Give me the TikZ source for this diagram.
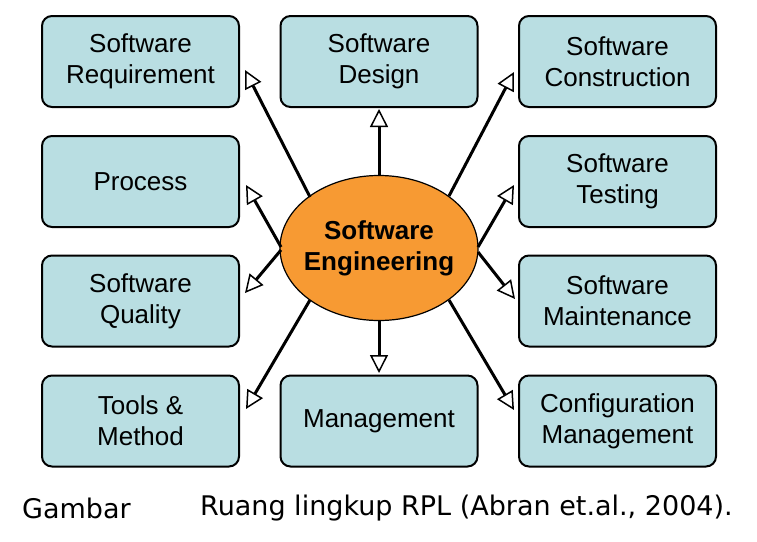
\documentclass[tikz,border=0pt]{standalone}
\usepackage{fontspec}
\setmainfont{Liberation Sans}
\newfontfamily\capfont{DejaVu Sans}
\usetikzlibrary{shapes.geometric,arrows.meta}
\definecolor{boxc}{RGB}{185,222,226}
\definecolor{orc}{RGB}{247,154,51}
\begin{document}
\begin{tikzpicture}[x=1pt,y=-1pt,
 box/.style={draw,line width=2pt,rounded corners=10pt,fill=boxc,minimum width=197pt,minimum height=91pt,align=center,font=\fontsize{26}{31}\selectfont,inner sep=0pt},
 arr/.style={line width=3pt,-{Triangle[open,length=18pt,width=18pt,line width=1.5pt]}}]
\useasboundingbox (0,0) rectangle (757,541);
\node[box] (req) at (140.5,61.5) {Software\\Requirement};
\node[box] (des) at (379,61.5) {Software\\Design};
\node[box] (con) at (617.5,61.5) {Software\\Construction};
\node[box] (pro) at (140.5,181.5) {Process};
\node[box] (tes) at (617.5,181.5) {Software\\Testing};
\node[box] (qua) at (140.5,301) {Software\\Quality};
\node[box] (mai) at (617.5,301) {Software\\Maintenance};
\node[box] (too) at (140.5,421) {Tools \&\\Method};
\node[box] (man) at (379,421) {Management};
\node[box] (cfg) at (617.5,421) {Configuration\\Management};
\node[ellipse,draw,line width=1.2pt,fill=orc,minimum width=198pt,minimum height=145pt,inner sep=0pt] (se) at (379,248) {};
\node[align=center,font=\fontsize{26}{31}\selectfont\bfseries,inner sep=0pt] (set) at (se.center) {Software\\Engineering};
\coordinate (s1) at (310,197); \coordinate (t1) at (245,70);
\coordinate (s2) at (281,247); \coordinate (t2) at (246,185);
\coordinate (s3) at (281,250); \coordinate (t3) at (245,293);
\coordinate (s4) at (310,300); \coordinate (t4) at (246,409);
\coordinate (s5) at (379,176); \coordinate (t5) at (379,109);
\coordinate (s6) at (379,320); \coordinate (t6) at (379,373);
\coordinate (s7) at (449,196); \coordinate (t7) at (514,72);
\coordinate (s8) at (478,247); \coordinate (t8) at (514,185);
\coordinate (s9) at (478,252); \coordinate (t9) at (515,299);
\coordinate (s10) at (449,300); \coordinate (t10) at (514,410);
\foreach \i in {1,...,10} \draw[arr] (s\i) -- (t\i);
\node[anchor=west,font=\capfont\fontsize{27}{29}\selectfont,inner sep=0pt] (cap1) at (22,508) {Gambar};
\node[anchor=west,font=\capfont\fontsize{27}{29}\selectfont,inner sep=0pt] (cap2) at (200,508) {Ruang lingkup RPL (Abran et.al., 2004).};
\end{tikzpicture}
\end{document}
